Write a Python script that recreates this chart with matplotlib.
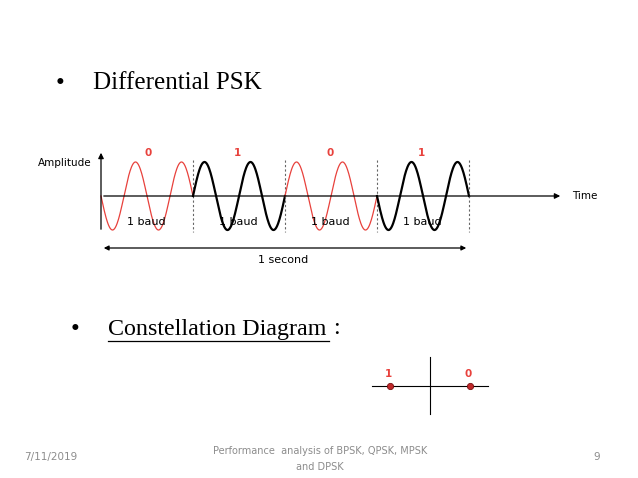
import numpy as np
import matplotlib
matplotlib.use("Agg")
import matplotlib.pyplot as plt

bits = [0, 1, 0, 1]
signs = [-1, 1, 1, -1]          # phase of each baud segment
colors = ["#e8413c", "black", "#e8413c", "black"]
widths = [0.9, 1.6, 0.9, 1.6]
bit_label_x = [148, 237, 330, 421]
const_labels = ["1", "0"]
const_x = [-1, 1]

fig = plt.figure(figsize=(6.38, 4.78), dpi=100)
ax = fig.add_axes([0, 0, 1, 1])
ax.set_xlim(0, 638); ax.set_ylim(478, 0); ax.axis("off")

serif = "Liberation Serif"
fs = 18
ax.text(60, 84, "•", fontsize=fs, family=serif, va="center", ha="center")
ax.text(93, 83, "Differential PSK", fontsize=fs, family=serif, va="center")
ax.text(75, 330, "•", fontsize=fs, family=serif, va="center", ha="center")
ax.text(108, 329, "Constellation Diagram", fontsize=17.3, family=serif, va="center")
ax.plot([108, 329], [341, 341], color="black", lw=0.9)
ax.text(333, 329, ":", fontsize=17.3, family=serif, va="center")

# axes of waveform
x0, seg, y0, amp = 101, 92, 196, 34
ax.annotate("", xy=(x0, 150), xytext=(x0, 232),
            arrowprops=dict(arrowstyle="-|>", color="black", lw=0.9, mutation_scale=8))
ax.annotate("", xy=(563, y0), xytext=(x0, y0),
            arrowprops=dict(arrowstyle="-|>", color="black", lw=0.9, mutation_scale=8))
ax.text(38, 163, "Amplitude", fontsize=7.5, va="center")
ax.text(572, 196, "Time", fontsize=7.5, va="center")

for i, (s, c, w) in enumerate(zip(signs, colors, widths)):
    u = np.linspace(0, 1, 200)
    xs = x0 + seg * (i + u)
    ax.plot(xs, y0 - s * amp * np.sin(2 * np.pi * 2 * u), color=c, lw=w)
    ax.plot([x0 + seg * (i + 1)] * 2, [160, 232], color="#666666", lw=0.8, ls=(0, (2, 2)))
    ax.text(bit_label_x[i], 153, str(bits[i]), color="#e8413c", fontsize=7.5,
            fontweight="bold", ha="center", va="center")
    ax.text(x0 + seg * i + 45, 222, "1 baud", fontsize=8, ha="center", va="center")

ax.annotate("", xy=(101, 248), xytext=(469, 248),
            arrowprops=dict(arrowstyle="<|-|>", color="black", lw=0.9, mutation_scale=7))
ax.text(283, 260, "1 second", fontsize=8, ha="center", va="center")

# constellation
cx, cy, r = 430, 386, 40
ax.plot([cx, cx], [357, 414], color="black", lw=0.8)
ax.plot([372, 488], [cy, cy], color="black", lw=0.8)
for lab, v in zip(const_labels, const_x):
    ax.plot(cx + v * r, cy, "o", color="#c0282a", ms=4.5, mec="#7a1010", mew=0.6)
    ax.text(cx + v * r - 2, 374, lab, color="#e8413c", fontsize=7.5,
            fontweight="bold", ha="center", va="center")

gray = "#8c8c8c"
ax.text(24, 457, "7/11/2019", fontsize=7.5, color=gray, va="center")
ax.text(320, 451, "Performance  analysis of BPSK, QPSK, MPSK", fontsize=7, color=gray, ha="center", va="center")
ax.text(320, 467, "and DPSK", fontsize=7, color=gray, ha="center", va="center")
ax.text(597, 457, "9", fontsize=7.5, color=gray, ha="center", va="center")

fig.savefig("out.png", dpi=100)
